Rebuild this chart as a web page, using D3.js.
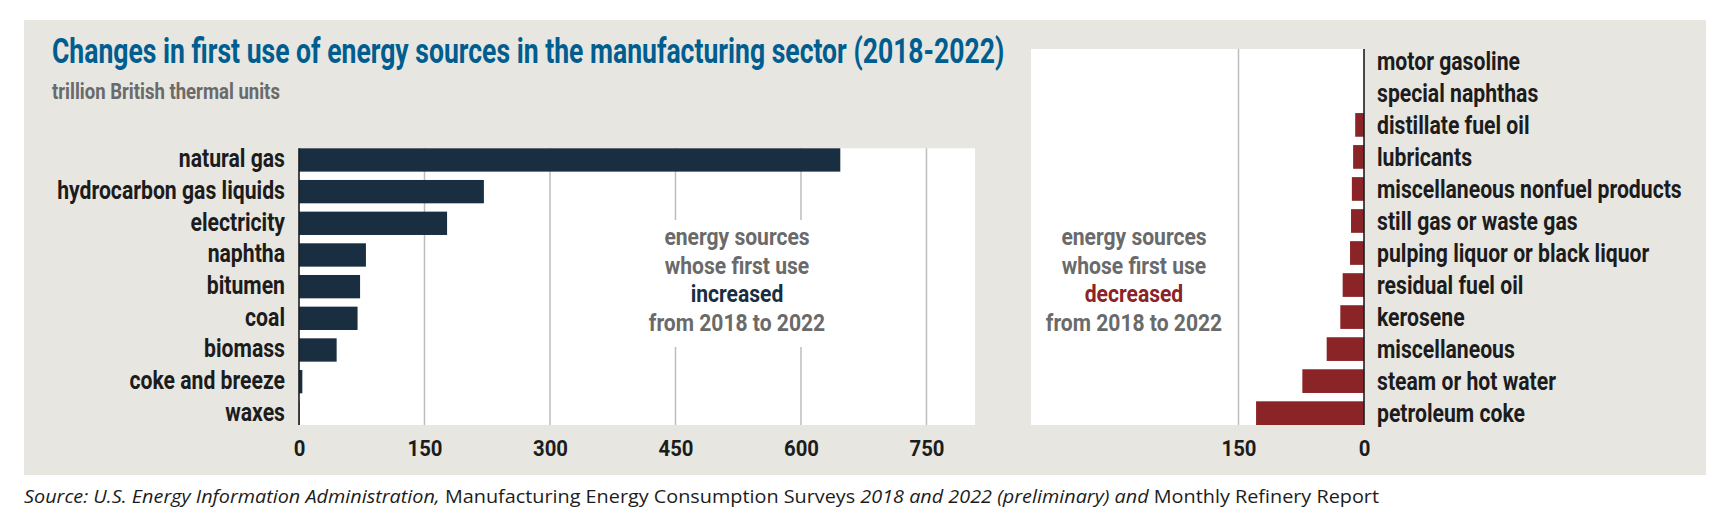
<!DOCTYPE html>
<html>
<head>
<meta charset="utf-8">
<script src="https://cdn.jsdelivr.net/npm/d3@7/dist/d3.min.js"></script>
<style>
  html, body { margin: 0; padding: 0; background: #ffffff; }
  svg { display: block; }
  .cond { font-family: Roboto, "Noto Sans", sans-serif; font-weight: 700; }
</style>
</head>
<body>
<svg id="chart" width="1724" height="530"></svg>
<script>
// ---------- data ----------
const incCategories = ["natural gas", "hydrocarbon gas liquids", "electricity", "naphtha", "bitumen", "coal", "biomass", "coke and breeze", "waxes"];
const incValues = [647, 221, 177, 80, 73, 70, 45, 4, 0.6];
const decCategories = ["motor gasoline", "special naphthas", "distillate fuel oil", "lubricants", "miscellaneous nonfuel products", "still gas or waste gas", "pulping liquor or black liquor", "residual fuel oil", "kerosene", "miscellaneous", "steam or hot water", "petroleum coke"];
const decValues = [0, 0, 10.5, 13, 14.5, 15.5, 16.7, 25.5, 28.3, 44.6, 73.7, 129];
const incTicks = [0, 150, 300, 450, 600, 750];
const decTicks = [150, 0];
const titleText = "Changes in first use of energy sources in the manufacturing sector (2018-2022)";
const subtitleText = "trillion British thermal units";
const incNote = ["energy sources", "whose first use", "increased", "from 2018 to 2022"];
const decNote = ["energy sources", "whose first use", "decreased", "from 2018 to 2022"];
const sourceParts = [
  ["Source: U.S. Energy Information Administration, ", true],
  ["Manufacturing Energy Consumption Surveys ", false],
  ["2018 and 2022 (preliminary) and ", true],
  ["Monthly Refinery Report", false]
];

// ---------- styles ----------
const C = {
  panel: "#e7e6e1", plot: "#ffffff", navy: "#1a2e42", red: "#8a2427",
  title: "#005d8f", sub: "#6a6a6a", note: "#6a6a6a", label: "#1c1c1c",
  grid: "#bdbdbd", axis: "#1c1c1c"
};

const svg = d3.select("#chart");

// measure a string's natural width in the base font
function measure(str, size) {
  const t = svg.append("text").attr("class", "cond").attr("font-size", size).text(str);
  const w = t.node().getComputedTextLength();
  t.remove();
  return w;
}
// horizontally condense text around its anchor point
function condense(sel, sx) {
  sel.each(function () {
    const el = d3.select(this);
    const x = +el.attr("x") || 0, y = +el.attr("y") || 0;
    el.attr("x", 0).attr("y", 0).attr("transform", `translate(${x},${y}) scale(${sx},1)`);
  });
}

const LABEL = 26, NOTE = 23, TICK = 21.5;
const sxLabel = 228 / measure("hydrocarbon gas liquids", LABEL);
const sxNote = 176.5 / measure("from 2018 to 2022", NOTE);
const sxTick = 35 / measure("750", TICK);

// background panel
svg.append("rect").attr("x", 24).attr("y", 20).attr("width", 1682).attr("height", 455).attr("fill", C.panel);

// title + subtitle
const tt = svg.append("text").attr("class", "cond").attr("x", 52).attr("y", 63)
  .attr("font-size", 34.5).attr("fill", C.title).text(titleText);
condense(tt, 953 / measure(titleText, 34.5));
const st = svg.append("text").attr("class", "cond").attr("x", 52).attr("y", 99)
  .attr("font-size", 22).attr("fill", C.sub).text(subtitleText);
condense(st, 228 / measure(subtitleText, 22));

// ---------- left chart (increases) ----------
const xL = d3.scaleLinear().domain([0, 808]).range([299, 975]);
const yL = d3.scaleBand().domain(incCategories).range([148.3, 425]).paddingInner(0.263).paddingOuter(0);

svg.append("rect").attr("x", xL(0)).attr("y", 148.3).attr("width", xL.range()[1] - xL(0)).attr("height", 425 - 148.3).attr("fill", C.plot);

svg.append("g").selectAll("line").data(incTicks.filter(d => d > 0)).join("line")
  .attr("x1", d => xL(d)).attr("x2", d => xL(d)).attr("y1", 148.3).attr("y2", 425)
  .attr("stroke", C.grid).attr("stroke-width", 1.5);

svg.append("g").selectAll("rect").data(incCategories).join("rect")
  .attr("x", xL(0)).attr("y", d => yL(d)).attr("height", yL.bandwidth())
  .attr("width", (d, i) => xL(incValues[i]) - xL(0)).attr("fill", C.navy);

svg.append("line").attr("x1", xL(0)).attr("x2", xL(0)).attr("y1", 148.3).attr("y2", 425)
  .attr("stroke", C.axis).attr("stroke-width", 1.6);

const labL = svg.append("g").selectAll("text").data(incCategories).join("text")
  .attr("class", "cond").attr("x", 285).attr("y", d => yL(d) + yL.bandwidth() / 2 + 7.5)
  .attr("text-anchor", "end").attr("font-size", LABEL).attr("fill", C.label)
  .text(d => d);
condense(labL, sxLabel);

const axL = svg.append("g").attr("transform", "translate(0,425)")
  .call(d3.axisBottom(xL).tickValues(incTicks).tickSize(0).tickFormat(d3.format("d")));
axL.select(".domain").remove();
axL.selectAll("text").attr("class", "cond").attr("font-size", TICK).attr("fill", C.label)
  .attr("dy", null).attr("y", 31).attr("font-family", null);
condense(axL.selectAll("text"), sxTick);

// annotation (white backing breaks the gridlines)
function note(lines, cx, accent) {
  const g = svg.append("g");
  g.append("rect").attr("x", cx - 98).attr("y", 220).attr("width", 196).attr("height", 127).attr("fill", C.plot);
  const t = g.selectAll("text").data(lines).join("text").attr("class", "cond")
    .attr("x", cx).attr("y", (d, i) => 245 + i * 28.6).attr("text-anchor", "middle")
    .attr("font-size", NOTE)
    .attr("fill", (d, i) => i === 2 ? accent : C.note).text(d => d);
  condense(t, sxNote);
}
note(incNote, 737, C.navy);

// ---------- right chart (decreases) ----------
const xR = d3.scaleLinear().domain([0, 398]).range([1364, 1031]);
const yR = d3.scaleBand().domain(decCategories).range([49, 425]).paddingInner(0.26).paddingOuter(0);

svg.append("rect").attr("x", xR.range()[1]).attr("y", 49).attr("width", xR(0) - xR.range()[1]).attr("height", 376).attr("fill", C.plot);

svg.append("g").selectAll("line").data(decTicks.filter(d => d > 0)).join("line")
  .attr("x1", d => xR(d)).attr("x2", d => xR(d)).attr("y1", 49).attr("y2", 425)
  .attr("stroke", C.grid).attr("stroke-width", 1.5);

note(decNote, 1134, C.red);

svg.append("g").selectAll("rect").data(decCategories).join("rect")
  .attr("x", (d, i) => xR(decValues[i])).attr("y", d => yR(d)).attr("height", yR.bandwidth())
  .attr("width", (d, i) => xR(0) - xR(decValues[i])).attr("fill", C.red);

svg.append("line").attr("x1", xR(0)).attr("x2", xR(0)).attr("y1", 49).attr("y2", 425)
  .attr("stroke", C.axis).attr("stroke-width", 1.6);

const labR = svg.append("g").selectAll("text").data(decCategories).join("text")
  .attr("class", "cond").attr("x", 1377).attr("y", d => yR(d) + yR.bandwidth() / 2 + 9)
  .attr("font-size", LABEL).attr("fill", C.label).text(d => d);
condense(labR, sxLabel);

const axR = svg.append("g").attr("transform", "translate(0,425)")
  .call(d3.axisBottom(xR).tickValues(decTicks).tickSize(0).tickFormat(d3.format("d")));
axR.select(".domain").remove();
axR.selectAll("text").attr("class", "cond").attr("font-size", TICK).attr("fill", C.label)
  .attr("dy", null).attr("y", 31).attr("font-family", null);
condense(axR.selectAll("text"), sxTick);

// ---------- source ----------
const src = svg.append("text").attr("x", 24).attr("y", 503)
  .attr("font-family", "'Open Sans', 'Noto Sans', sans-serif").attr("font-size", 18).attr("fill", "#1c1c1c");
src.selectAll("tspan").data(sourceParts).join("tspan")
  .attr("font-style", d => d[1] ? "italic" : "normal").text(d => d[0]);
condense(src, 1356 / src.node().getComputedTextLength());
</script>
</body>
</html>
